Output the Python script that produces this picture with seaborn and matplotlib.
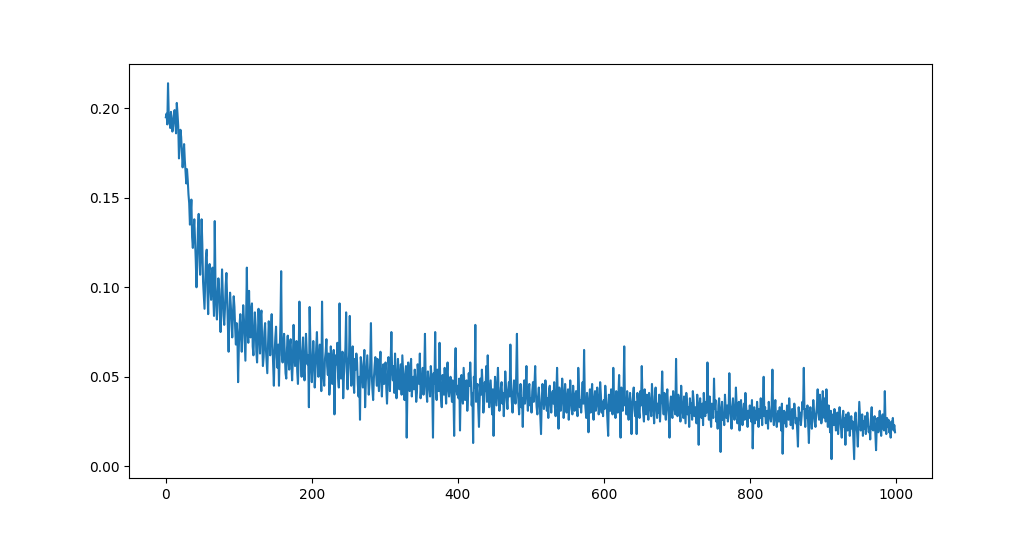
import seaborn as sns
import numpy as np
import pandas as pd
import matplotlib
matplotlib.use("Agg")
import matplotlib.pyplot as plt

# values, in thousandths, 100 steps per block
loss_000 = [195, 197, 191, 214, 196, 193, 189, 198, 194, 187,
            190, 196, 199, 192, 186, 203, 197, 190, 172, 181,
            188, 184, 176, 167, 173, 180, 171, 164, 158, 166,
            160, 152, 147, 135, 141, 149, 128, 122, 131, 138,
            126, 115, 100, 112, 133, 141, 122, 107, 118, 138,
            124, 103, 96, 88, 104, 117, 121, 98, 85, 109,
            113, 100, 93, 106, 111, 95, 84, 137, 102, 90,
            82, 96, 105, 99, 86, 75, 91, 110, 97, 84,
            79, 88, 101, 108, 93, 76, 64, 83, 97, 90,
            81, 72, 86, 95, 89, 77, 68, 80, 74, 47]
loss_100 = [66, 79, 85, 73, 64, 78, 90, 82, 70, 59,
            83, 111, 76, 69, 98, 80, 72, 88, 91, 67,
            62, 74, 86, 79, 64, 58, 71, 88, 77, 63,
            84, 87, 70, 56, 61, 75, 80, 66, 59, 52,
            68, 81, 74, 62, 77, 85, 69, 57, 45, 63,
            72, 78, 61, 55, 68, 45, 64, 80, 109, 62,
            58, 67, 74, 63, 52, 49, 66, 73, 60, 54,
            68, 71, 57, 48, 59, 79, 65, 56, 62, 70,
            53, 46, 61, 92, 67, 58, 50, 63, 72, 55,
            48, 60, 74, 64, 57, 62, 33, 89, 69, 54]
loss_200 = [47, 58, 70, 61, 44, 53, 66, 75, 59, 50,
            62, 68, 55, 42, 92, 57, 49, 45, 60, 64,
            71, 56, 51, 63, 40, 48, 67, 58, 46, 55,
            65, 29, 52, 62, 57, 69, 50, 44, 91, 60,
            49, 56, 64, 38, 51, 58, 66, 86, 53, 43,
            57, 62, 84, 55, 45, 52, 67, 48, 41, 60,
            54, 63, 58, 46, 39, 50, 26, 61, 57, 49,
            44, 56, 65, 33, 47, 55, 62, 51, 40, 46,
            58, 80, 52, 43, 37, 49, 56, 61, 53, 45,
            60, 48, 42, 55, 64, 50, 39, 52, 57, 46]
loss_300 = [51, 58, 44, 35, 47, 61, 55, 42, 59, 75,
            53, 48, 56, 41, 63, 50, 38, 45, 60, 52,
            43, 49, 57, 40, 62, 54, 45, 37, 51, 56,
            16, 44, 58, 49, 42, 55, 60, 39, 47, 50,
            43, 54, 48, 36, 41, 57, 52, 46, 63, 38,
            45, 49, 55, 40, 51, 74, 47, 42, 36, 53,
            48, 44, 39, 56, 50, 43, 16, 52, 46, 75,
            41, 37, 54, 49, 42, 69, 45, 38, 33, 51,
            47, 40, 55, 44, 35, 52, 58, 43, 39, 46,
            50, 42, 36, 48, 41, 17, 53, 66, 44, 40]
loss_400 = [45, 38, 49, 20, 43, 51, 40, 35, 55, 46,
            37, 42, 48, 31, 39, 52, 45, 58, 47, 34,
            41, 13, 50, 44, 79, 36, 43, 46, 33, 22,
            38, 49, 40, 54, 45, 30, 35, 47, 42, 56,
            36, 62, 44, 33, 41, 48, 39, 29, 43, 17,
            37, 50, 42, 34, 45, 55, 40, 31, 38, 44,
            47, 35, 41, 28, 39, 53, 45, 37, 32, 42,
            47, 39, 68, 44, 36, 30, 41, 48, 43, 35,
            51, 74, 42, 37, 29, 40, 46, 33, 38, 22,
            41, 48, 35, 44, 56, 39, 31, 43, 46, 34]
loss_500 = [38, 30, 42, 47, 36, 45, 56, 40, 33, 29,
            39, 44, 36, 28, 18, 37, 46, 41, 32, 35,
            48, 40, 31, 38, 27, 43, 45, 36, 30, 39,
            42, 35, 47, 33, 28, 40, 55, 37, 21, 44,
            36, 31, 38, 49, 41, 27, 34, 46, 39, 30,
            37, 43, 26, 35, 48, 39, 32, 29, 45, 36,
            31, 40, 42, 34, 28, 55, 44, 33, 37, 30,
            39, 47, 35, 65, 38, 32, 27, 41, 34, 19,
            36, 43, 30, 38, 46, 33, 26, 37, 42, 31,
            35, 44, 38, 29, 33, 47, 40, 30, 36, 28]
loss_600 = [37, 32, 45, 39, 34, 26, 17, 40, 35, 31,
            43, 36, 29, 55, 38, 33, 27, 42, 35, 30,
            39, 51, 32, 16, 44, 37, 31, 40, 67, 34,
            38, 29, 42, 33, 26, 36, 41, 30, 18, 35,
            39, 44, 32, 28, 36, 18, 41, 37, 31, 27,
            42, 34, 56, 38, 30, 25, 43, 33, 29, 40,
            35, 26, 41, 37, 32, 28, 46, 36, 31, 24,
            39, 44, 33, 27, 35, 30, 40, 25, 34, 38,
            53, 36, 29, 41, 31, 26, 38, 43, 33, 28,
            16, 35, 39, 30, 27, 42, 36, 32, 29, 60]
loss_700 = [34, 28, 40, 37, 31, 25, 45, 35, 30, 27,
            39, 32, 24, 41, 36, 29, 33, 22, 38, 30,
            35, 26, 42, 37, 28, 31, 33, 24, 40, 29,
            12, 34, 38, 30, 27, 35, 23, 41, 31, 28,
            36, 30, 58, 33, 26, 39, 29, 22, 35, 31,
            27, 49, 32, 37, 25, 30, 21, 34, 38, 28,
            8, 31, 36, 26, 29, 23, 40, 32, 27, 34,
            25, 30, 52, 35, 28, 21, 33, 38, 31, 26,
            29, 44, 34, 24, 27, 36, 20, 32, 37, 28,
            23, 30, 35, 26, 41, 33, 29, 22, 31, 27]
loss_800 = [34, 30, 25, 37, 10, 28, 33, 24, 31, 26,
            36, 29, 22, 32, 27, 38, 30, 23, 35, 50,
            28, 33, 24, 26, 31, 21, 36, 30, 27, 25,
            34, 54, 29, 23, 32, 37, 26, 22, 28, 31,
            25, 33, 29, 20, 35, 7, 27, 31, 24, 30,
            22, 34, 28, 26, 38, 30, 23, 25, 32, 21,
            29, 35, 31, 24, 27, 20, 11, 33, 26, 30,
            23, 28, 36, 32, 55, 29, 22, 32, 27, 34,
            24, 13, 30, 33, 26, 21, 28, 37, 31, 25,
            22, 29, 34, 43, 30, 26, 40, 35, 24, 28]
loss_900 = [42, 33, 27, 38, 25, 43, 30, 22, 34, 28,
            19, 31, 4, 26, 29, 23, 32, 27, 20, 24,
            30, 18, 26, 33, 28, 21, 16, 25, 31, 22,
            27, 12, 29, 24, 20, 30, 26, 17, 23, 28,
            21, 25, 15, 4, 27, 30, 22, 19, 11, 24,
            36, 28, 20, 23, 29, 17, 25, 21, 28, 18,
            24, 30, 26, 19, 22, 15, 27, 33, 21, 20,
            25, 28, 18, 9, 23, 27, 19, 24, 31, 22,
            17, 26, 29, 21, 20, 42, 23, 18, 27, 22,
            26, 19, 24, 16, 25, 21, 27, 20, 23, 19]

blocks = [loss_000, loss_100, loss_200, loss_300, loss_400,
          loss_500, loss_600, loss_700, loss_800, loss_900]
loss = np.concatenate(blocks) / 1000.0
steps = np.arange(len(loss))

df = pd.DataFrame({'step': steps, 'loss': loss})

plt.figure(figsize=(10.35, 5.37), dpi=100)
ax = sns.lineplot(data=df, x='step', y='loss', color='#1f77b4', linewidth=1.5)
ax.set_xlabel('')
ax.set_ylabel('')
ax.set_xticks([0, 200, 400, 600, 800, 1000])
ax.set_yticks([0.00, 0.05, 0.10, 0.15, 0.20])
ax.set_yticklabels(['0.00', '0.05', '0.10', '0.15', '0.20'])

plt.savefig('out.png', dpi=100)
